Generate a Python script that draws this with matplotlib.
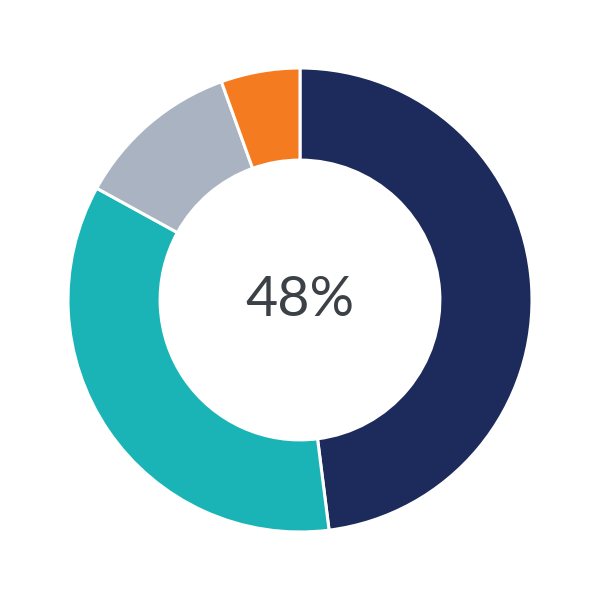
import matplotlib
matplotlib.use("Agg")
import matplotlib.pyplot as plt

# доли сегментов по часовой стрелке от верхней точки
labels = ["A", "B", "C", "D"]
shares = [48, 35, 11.5, 5.5]
colors = ["#1c2b5b", "#1ab4b7", "#a9b3c1", "#f47b20"]
center_text = "48%"

fig = plt.figure(figsize=(6, 6), dpi=100)
ax = fig.add_axes([0, 0, 1, 1])

ax.pie(
    shares,
    colors=colors,
    startangle=90,
    counterclock=False,
    radius=1,
    wedgeprops=dict(width=0.397, edgecolor="white", linewidth=2.2),
)
ax.text(0, 0, center_text, ha="center", va="center",
        fontsize=40, color="#3c4147", family=["Lato", "DejaVu Sans"])

lim = 300 / 232
ax.set_xlim(-lim, lim)
ax.set_ylim(-lim, lim)
ax.set_aspect("equal")
ax.axis("off")

fig.savefig("out.png", dpi=100, facecolor="white")
plt.close(fig)
